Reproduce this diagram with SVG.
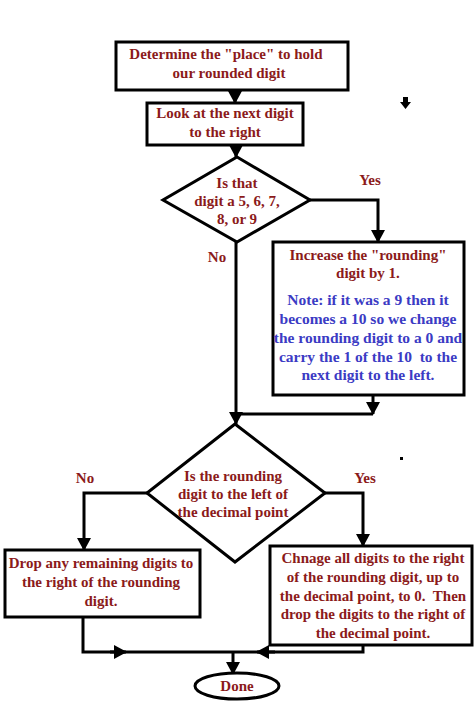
<svg xmlns="http://www.w3.org/2000/svg" width="474" height="707" viewBox="0 0 474 707">
<defs>
<style>
.shape{fill:#fff;stroke:#000;stroke-width:3}
.ln{fill:none;stroke:#000;stroke-width:3}
.t{font-family:"Liberation Serif","Times New Roman",serif;font-weight:bold;font-size:15px;fill:#8b1a1a;text-anchor:middle}
.b{fill:#3b3bc4;font-size:15.5px}
</style>
<marker id="arr" markerUnits="userSpaceOnUse" markerWidth="14" markerHeight="14" viewBox="0 0 14 14" refX="12" refY="7" orient="auto">
<path d="M0,0 L13,7 L0,14 Z" fill="#000"/>
</marker>
</defs>
<rect width="474" height="707" fill="#fff"/>
<g id="connectors">
<path class="ln" d="M235,90 V103" marker-end="url(#arr)"/>
<path class="ln" d="M236,145 V157" marker-end="url(#arr)"/>
<path class="ln" d="M310,200 H378 V242" marker-end="url(#arr)"/>
<path class="ln" d="M236,242 V424" marker-end="url(#arr)"/>
<path class="ln" d="M373,395 V414" marker-end="url(#arr)"/>
<path class="ln" d="M373,414 H236"/>
<path class="ln" d="M147,493 H84 V550" marker-end="url(#arr)"/>
<path class="ln" d="M325,493 H363 V546" marker-end="url(#arr)"/>
<path class="ln" d="M83,617 V652 H363 V645"/>
<path class="ln" d="M110,652 H126" marker-end="url(#arr)"/>
<path class="ln" d="M275,652 H257" marker-end="url(#arr)"/>
<path class="ln" d="M233,652 V674" marker-end="url(#arr)"/>
</g>
<g id="n1">
<rect class="shape" x="116" y="42" width="232" height="48"/>
<text class="t" x="226" y="59">Determine the "place" to hold</text>
<text class="t" x="229" y="78">our rounded digit</text>
</g>
<g id="n2">
<rect class="shape" x="147" y="103" width="156" height="42"/>
<text class="t" x="225" y="118">Look at the next digit</text>
<text class="t" x="225" y="137">to the right</text>
</g>
<g id="d1">
<polygon class="shape" points="237,157 310,200 237,242 163,200"/>
<text class="t" x="237" y="188">Is that</text>
<text class="t" x="237" y="206">digit a 5, 6, 7,</text>
<text class="t" x="237" y="224">8, or 9</text>
</g>
<text class="t" x="370" y="185">Yes</text>
<text class="t" x="217" y="262">No</text>
<g id="n3">
<rect class="shape" x="273" y="242" width="191" height="153"/>
<text class="t" x="368" y="260">Increase the "rounding"</text>
<text class="t" x="368" y="278">digit by 1.</text>
<text class="t b" x="368" y="305">Note: if it was a 9 then it</text>
<text class="t b" x="368" y="324">becomes a 10 so we change</text>
<text class="t b" x="368" y="343">the rounding digit to a 0 and</text>
<text class="t b" x="368" y="362" xml:space="preserve">carry the 1 of the 10  to the</text>
<text class="t b" x="368" y="380">next digit to the left.</text>
</g>
<g id="d2">
<polygon class="shape" points="235,424 325,493 235,562 147,493"/>
<text class="t" x="233" y="481">Is the rounding</text>
<text class="t" x="233" y="499">digit to the left of</text>
<text class="t" x="233" y="517">the decimal point</text>
</g>
<text class="t" x="85" y="483">No</text>
<text class="t" x="365" y="483">Yes</text>
<g id="n4">
<rect class="shape" x="5" y="550" width="195" height="67"/>
<text class="t" x="101" y="568">Drop any remaining digits to</text>
<text class="t" x="101" y="587">the right of the rounding</text>
<text class="t" x="101" y="606">digit.</text>
</g>
<g id="n5">
<rect class="shape" x="270" y="546" width="202" height="99"/>
<text class="t" x="373" y="563">Chnage all digits to the right</text>
<text class="t" x="373" y="582">of the rounding digit, up to</text>
<text class="t" x="373" y="601" xml:space="preserve">the decimal point, to 0.  Then</text>
<text class="t" x="373" y="619">drop the digits to the right of</text>
<text class="t" x="373" y="638">the decimal point.</text>
</g>
<g id="done">
<ellipse class="shape" cx="237" cy="686" rx="42" ry="13"/>
<text class="t" x="237" y="691">Done</text>
</g>
<path d="M403,97 H408 V102 H411 L405.5,109 L400,102 H403 Z" fill="#000"/>
<rect x="400" y="457" width="3" height="3" fill="#000"/>
</svg>
